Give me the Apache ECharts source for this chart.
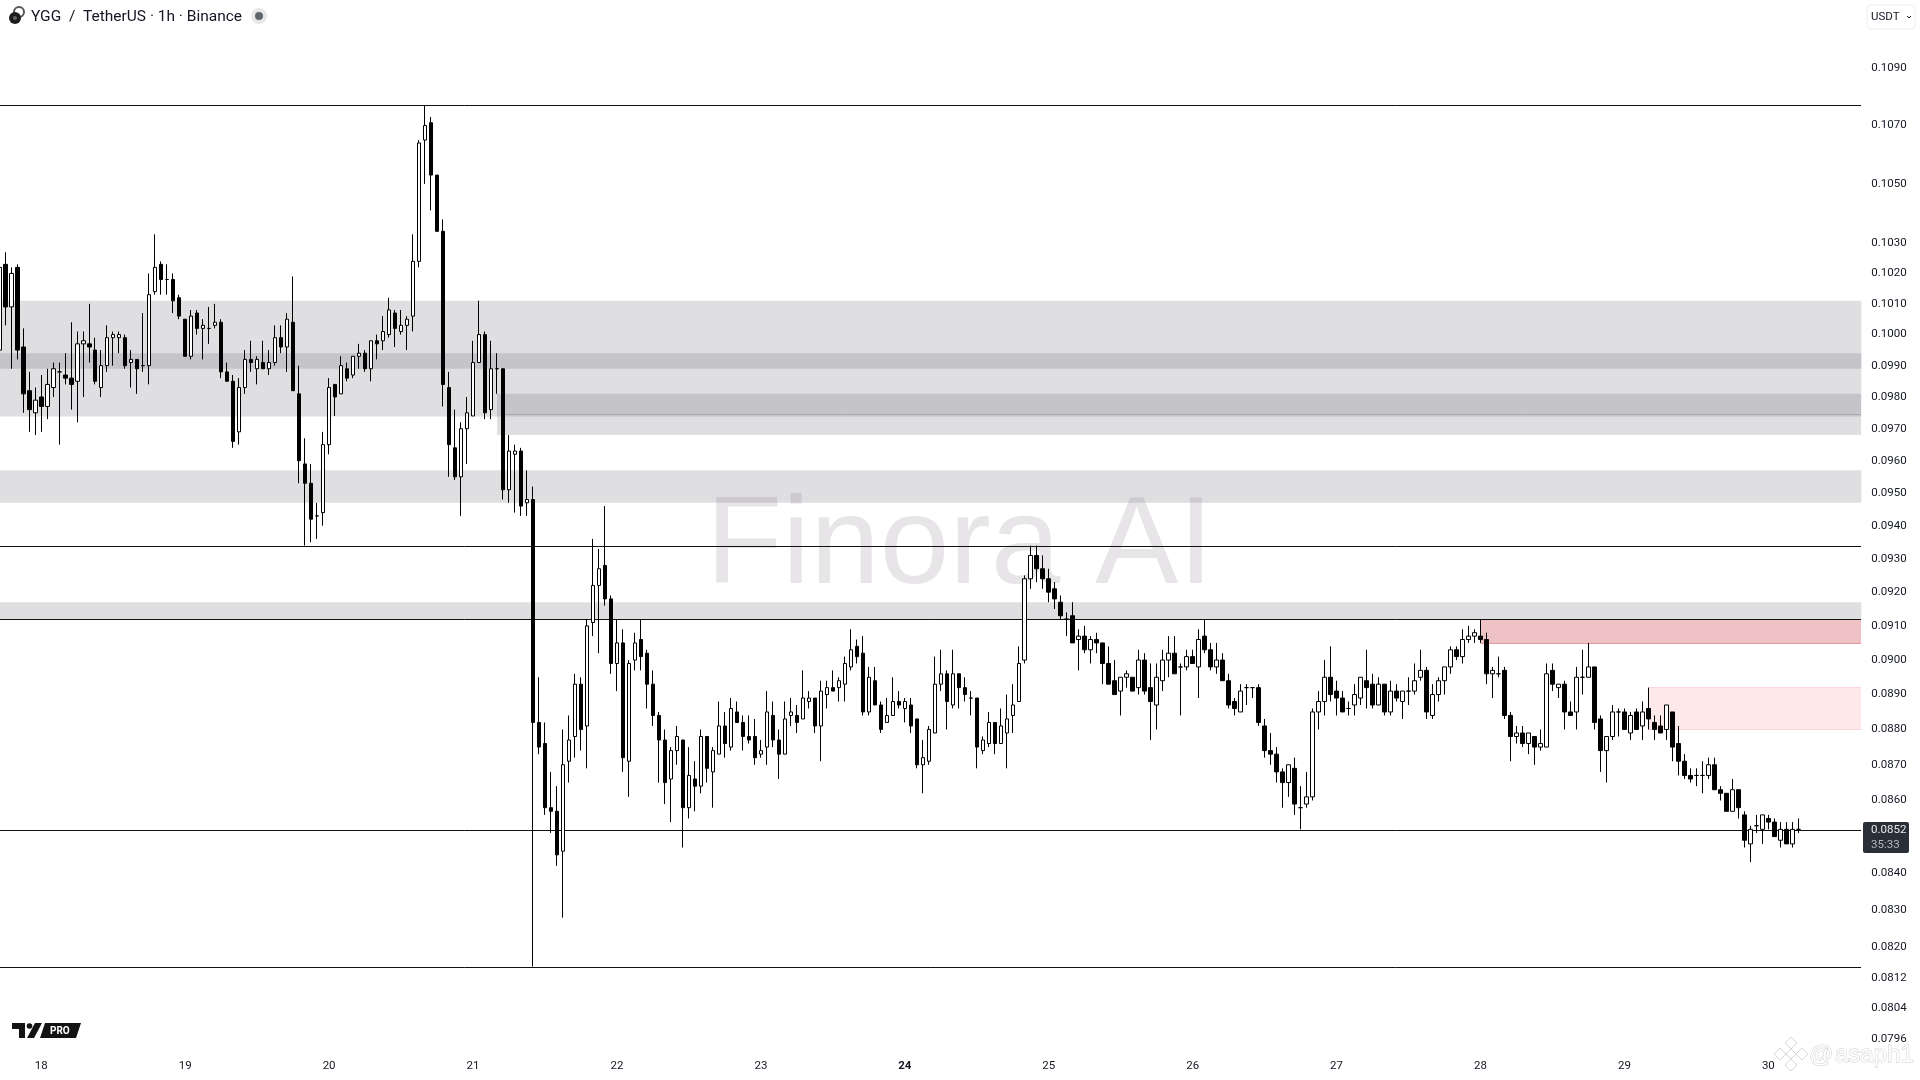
<!DOCTYPE html>
<html><head><meta charset="utf-8"><style>html,body{margin:0;padding:0;background:#fff}#c{width:1920px;height:1080px}</style>
<script src="https://cdn.jsdelivr.net/npm/echarts@6/dist/echarts.min.js"></script></head><body><div id="c"></div>
<script>
// prices in ticks of 0.0001 USDT, one entry per hourly candle
const priceTick = 0.0001;
const openT = [995,1023,1009,1022,996,982,975,980,977,983,988,987,986,985,997,997,995,983,990,999,999,999,991,992,990,990,1014,1023,1018,1018,1012,1005,993,1007,1002,1002,1003,1004,988,985,969,983,992,989,991,989,991,999,996,1004,981,959,953,943,944,965,984,981,989,987,993,994,989,998,998,1000,1007,1001,1003,1006,1024,1065,1071,1053,1034,983,964,955,970,974,991,1000,976,989,989,951,962,963,947,948,882,876,858,857,846,871,878,893,881,911,922,928,918,899,905,871,900,906,902,893,884,877,866,874,877,858,866,864,878,868,873,881,875,885,882,878,878,873,875,884,877,873,884,884,883,888,889,881,890,892,892,893,898,904,902,885,894,887,882,884,888,886,887,883,870,871,879,893,896,887,896,892,889,889,874,876,882,876,879,884,888,900,924,931,927,924,921,917,912,913,906,907,903,906,905,899,894,891,895,895,892,900,892,887,894,900,902,898,898,901,898,907,903,898,900,894,888,885,892,892,892,881,874,873,868,865,869,858,859,861,885,888,895,891,889,886,887,889,894,893,887,893,885,891,888,891,891,895,897,884,890,894,898,903,901,906,907,907,906,896,896,897,884,878,879,876,878,875,875,897,892,893,885,885,895,895,898,883,874,878,885,885,879,885,881,886,882,881,880,885,876,871,867,867,867,867,870,863,862,857,863,856,848,853,852,855,854,849,852,848,852];
const closeT = [1022,1009,1020,995,981,976,979,977,984,989,988,986,984,997,998,996,985,990,999,1000,1000,990,992,989,990,1013,1022,1018,1018,1011,1006,993,1006,1002,1003,1002,1004,988,985,966,983,992,991,992,989,991,999,996,1005,982,960,953,942,943,965,983,980,990,986,993,994,989,998,997,1001,1008,1002,1003,1005,1024,1064,1070,1053,1034,984,965,955,970,975,991,1000,975,989,989,951,963,963,946,948,882,875,858,857,845,870,877,893,880,910,922,927,918,899,905,872,899,905,901,893,884,877,865,874,878,858,867,864,878,869,874,881,876,886,882,878,877,872,874,885,877,873,883,885,882,889,889,881,891,892,891,894,899,903,901,885,895,887,880,884,888,887,888,881,870,872,880,893,896,888,896,892,890,889,875,877,882,876,881,883,887,899,924,931,927,924,920,918,913,912,905,907,903,906,905,899,893,890,895,896,891,900,891,888,895,900,902,896,898,901,899,906,903,898,900,894,887,886,891,892,892,882,874,873,868,865,870,859,858,861,885,888,895,890,889,885,886,890,895,892,887,893,885,891,889,891,891,894,897,885,890,894,898,903,901,906,907,908,906,896,897,896,884,878,879,876,879,875,876,896,893,893,885,884,895,895,898,882,874,878,885,885,880,884,880,885,883,880,879,887,875,871,867,866,867,867,870,863,862,857,863,858,849,852,853,856,854,850,852,848,852,852];
const lowT = [990,1003,989,992,975,969,968,969,973,980,965,984,976,972,980,991,984,980,988,990,994,989,983,981,988,984,1013,1013,1013,1007,1005,993,992,1000,992,997,1002,986,985,964,965,981,988,984,989,987,990,994,988,982,953,934,935,936,940,962,974,981,985,986,989,988,985,992,995,999,996,1000,995,1001,1022,1050,1041,1034,977,955,954,943,959,974,991,973,973,981,948,947,944,943,943,815,873,856,851,842,828,865,872,874,869,907,902,916,896,891,868,861,897,897,886,881,865,859,854,870,847,855,857,862,865,858,873,872,874,882,874,876,870,872,870,875,866,873,881,879,883,886,879,871,886,891,888,888,897,899,884,884,887,879,882,884,886,882,879,869,862,870,879,891,880,886,886,888,884,869,873,875,873,876,869,879,888,899,921,923,921,917,915,912,907,905,897,902,899,902,893,893,890,884,892,891,890,890,877,880,891,895,896,884,897,899,889,902,897,896,894,886,884,885,887,889,881,872,870,865,858,861,856,852,858,860,880,884,888,884,885,884,884,887,886,886,887,884,884,888,883,887,890,894,883,883,888,890,896,900,899,905,905,905,893,889,895,883,871,876,875,873,870,874,875,891,889,880,884,880,890,895,880,868,865,877,878,880,877,880,877,880,877,879,877,871,867,866,865,864,862,866,863,860,857,857,855,847,843,851,848,852,850,847,848,847,851];
const highT = [1026,1027,1022,1023,1002,988,983,987,989,991,991,994,1004,1001,1001,1010,999,995,1003,1001,1001,1000,995,992,1007,1020,1033,1024,1023,1020,1013,1005,1008,1008,1005,1009,1010,1005,991,987,986,995,998,993,998,995,1003,1003,1007,1019,990,967,959,947,969,986,984,993,991,993,997,995,998,1000,1006,1012,1008,1008,1006,1033,1065,1077,1073,1053,1038,988,976,972,980,998,1011,1001,998,994,989,968,965,964,957,952,895,882,868,864,880,884,896,895,912,936,933,946,919,912,909,900,908,912,903,897,885,880,875,881,877,875,871,880,878,875,888,885,889,888,884,884,883,877,891,888,880,888,889,887,897,891,889,894,894,897,895,901,909,906,907,898,898,888,889,895,891,889,889,883,877,881,901,903,897,903,896,895,891,889,878,885,882,886,890,893,904,925,934,934,931,927,923,919,914,917,909,910,907,908,905,904,900,895,897,895,903,902,899,899,903,907,907,899,903,903,909,912,905,905,902,896,889,893,893,892,893,883,879,875,869,870,872,864,868,886,891,900,904,894,891,888,893,895,903,896,895,893,894,893,891,895,899,903,898,893,895,898,904,904,909,910,909,912,908,898,901,898,885,881,881,879,878,880,899,899,893,894,888,898,903,905,898,884,878,887,886,886,885,886,888,892,884,884,887,885,881,873,869,869,871,872,872,864,862,866,863,857,853,856,856,856,855,854,854,854,855];
const dayLabels = ['18','19','20','21','22','23','24','25','26','27','28','29','30'];
const boldDays = ['24'];
const priceTicks = [0.1090,0.1070,0.1050,0.1030,0.1020,0.1010,0.1000,0.0990,0.0980,0.0970,0.0960,0.0950,0.0940,0.0930,0.0920,0.0910,0.0900,0.0890,0.0880,0.0870,0.0860,0.0840,0.0830,0.0820,0.0812,0.0804,0.0796];
const hLines = [0.1077,0.09337,0.0912,0.08518,0.08148];
const greyBands = [[0.1011,0.0989,0],[0.0994,0.09738,0],[0.0981,0.0968,83],[0.0957,0.0947,0],[0.0917,0.0912,0]];
const redZone = [0.0912,0.0905,247];
const pinkZone = [0.0892,0.0880,275];
const thinLine = [0.09745,84];
const lastPrice = '0.0852', countdown = '35:33';

const extraSlots = 10;
const toPrice = v => +(v * priceTick).toFixed(4);
const candles = openT.map((o,i)=>[toPrice(o),toPrice(closeT[i]),toPrice(lowT[i]),toPrice(highT[i])]);
const cats = candles.map((_,i)=>String(i)).concat(Array.from({length:extraSlots},(_,i)=>'x'+i));
const firstDayIdx = 7, perDay = 24;
const dayOf = i => { const j=(i-firstDayIdx)/perDay; return Number.isInteger(j)?dayLabels[j]:null; };

const bandArea = b => { const a={yAxis:b[0]}, c={yAxis:b[1]}; if(b[2]){a.xAxis=b[2];c.x=1861;} return [a,c]; };
const diamond=(cx,cy,r)=>({type:'polygon',z:3,shape:{points:[[cx,cy-r],[cx+r,cy],[cx,cy+r],[cx-r,cy]]},style:{fill:'#fff',stroke:'#d9d6d8',lineWidth:1}});
const chart = echarts.init(document.getElementById('c'),null,{renderer:'canvas'});
chart.setOption({
  animation:false, backgroundColor:'#fff',
  grid:{left:-3.7,top:0,width:1865,height:1060,containLabel:false,outerBoundsMode:'none'},
  xAxis:{type:'category',data:cats,boundaryGap:true,axisLine:{show:false},axisTick:{show:false},splitLine:{show:false},
    axisLabel:{margin:0,color:'#131722',fontFamily:'Roboto',fontSize:11.5,
      interval:(i)=>dayOf(i)!==null,
      formatter:(v,i)=>{const d=dayOf(i); return d===null?'':(boldDays.includes(d)?'{b|'+d+'}':d);},
      rich:{b:{fontWeight:'bold',fontFamily:'Roboto',fontSize:11.5,color:'#131722'}}}},
  yAxis:{type:'log',logBase:10,position:'right',min:0.07907,max:0.11144,
    axisLine:{show:false},axisTick:{show:false},splitLine:{show:false},
    axisLabel:{customValues:priceTicks,margin:10,padding:[2,0,0,0],color:'#131722',fontFamily:'Roboto',fontSize:11.5,align:'left',
      formatter:v=>(+v).toFixed(4)}},
  series:[{type:'candlestick',data:candles,barWidth:4,clip:true,z:2,
    itemStyle:{color:'#fff',color0:'#000',borderColor:'#000',borderColor0:'#000',borderWidth:1},
    markArea:{silent:true,z:1,data:greyBands.map(b=>{const d=bandArea(b);d[0].itemStyle={color:'rgba(97,97,106,0.2)'};return d;}).concat([
      [{yAxis:redZone[0],xAxis:redZone[2],itemStyle:{color:'#eec1c4'}},{yAxis:redZone[1],x:1861}],
      [{yAxis:pinkZone[0],xAxis:pinkZone[2],itemStyle:{color:'#fde9ea'}},{yAxis:pinkZone[1],x:1861}]
    ])},
    markLine:{silent:true,z:1,symbol:'none',animation:false,label:{show:false},
      lineStyle:{color:'#111',width:1,type:'solid'},
      data:hLines.map(v=>[{yAxis:v,xAxis:'0'},{yAxis:v,x:1861}]).concat([
        [{yAxis:thinLine[0],xAxis:thinLine[1],lineStyle:{color:'#b0a6b6',width:1,type:'solid'}},{yAxis:thinLine[0],x:1861}],
        [{yAxis:redZone[1],xAxis:redZone[2],lineStyle:{color:'#e39ba1',width:1,type:'solid'}},{yAxis:redZone[1],x:1861}],
        [{yAxis:pinkZone[0],xAxis:pinkZone[2],lineStyle:{color:'#f5b7ba',width:1,type:'dotted'}},{yAxis:pinkZone[0],x:1861}],
        [{yAxis:pinkZone[1],xAxis:pinkZone[2],lineStyle:{color:'#f5b7ba',width:1,type:'dotted'}},{yAxis:pinkZone[1],x:1861}]
      ])}
  }],
  graphic:{elements:[
    {type:'text',z:0,style:{text:'Finora AI',x:706,y:549,font:'125px "Liberation Sans"',fill:'rgba(150,135,150,0.22)',textVerticalAlign:'middle'}},
    {type:'circle',z:5,shape:{cx:19,cy:12,r:5},style:{fill:'#fff',stroke:'#555',lineWidth:2}},
    {type:'circle',z:5,shape:{cx:15,cy:18,r:6},style:{fill:'#1c1c1c'}},
    {type:'circle',z:5,shape:{cx:15,cy:18,r:2},style:{fill:'#666'}},
    {type:'text',z:5,style:{text:'YGG  /  TetherUS · 1h · Binance',x:31,y:17,font:'15.5px Roboto',fill:'#131722',textVerticalAlign:'middle'}},
    {type:'circle',z:5,shape:{cx:259,cy:16,r:8},style:{fill:'#e8e8e8'}},
    {type:'circle',z:5,shape:{cx:259,cy:16,r:4},style:{fill:'#5f656e'}},
    {type:'rect',z:5,shape:{x:1867,y:5,width:48,height:24,r:4},style:{fill:'#fff',stroke:'#eeeeee',lineWidth:1}},
    {type:'text',z:5,style:{text:'USDT',x:1871,y:17,font:'11.5px Roboto',fill:'#131722',textVerticalAlign:'middle'}},
    {type:'polyline',z:5,shape:{points:[[1907,16],[1909,18],[1911,16]]},style:{stroke:'#131722',lineWidth:1,fill:'none'}},
    {type:'rect',z:5,shape:{x:1863,y:822,width:46,height:31,r:2},style:{fill:'#2a2e36'}},
    {type:'text',z:6,style:{text:lastPrice,x:1871,y:830,font:'11.5px Roboto',fill:'#e8e9ec',textVerticalAlign:'middle'}},
    {type:'text',z:6,style:{text:countdown,x:1871,y:845,font:'11.5px Roboto',fill:'#b4b7be',textVerticalAlign:'middle'}},
    {type:'polygon',z:5,shape:{points:[[12,1023],[25,1023],[25,1038],[19,1038],[19,1029],[12,1029]]},style:{fill:'#131313'}},
    {type:'circle',z:5,shape:{cx:29.5,cy:1026,r:2.8},style:{fill:'#131313'}},
    {type:'polygon',z:5,shape:{points:[[35,1023],[42,1023],[34,1038],[27,1038]]},style:{fill:'#131313'}},
    {type:'polygon',z:5,shape:{points:[[45,1023],[81,1023],[76,1038],[40,1038]]},style:{fill:'#131313'}},
    {type:'text',z:6,style:{text:'PRO',x:50,y:1031,font:'bold 10px Roboto',fill:'#fff',textVerticalAlign:'middle'}},
    diamond(1791,1043,6),diamond(1780,1054,6),diamond(1802,1054,6),diamond(1791,1065,6),diamond(1791,1054,5),
    {type:'text',z:3,style:{text:'@',x:1809,y:1055,font:'24px "Liberation Sans"',fill:'#fff',stroke:'#cfcccd',lineWidth:1,textVerticalAlign:'middle'}},
    {type:'text',z:3,style:{text:'asaph1',x:1835,y:1055,font:'24px "Liberation Sans"',fill:'#fff',stroke:'#cfcccd',lineWidth:1,textVerticalAlign:'middle'}}
  ]}
});
</script></body></html>
